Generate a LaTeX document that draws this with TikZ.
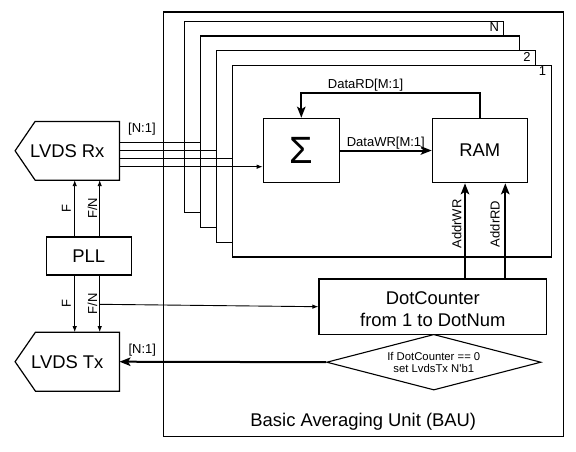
\documentclass[tikz,border=0pt]{standalone}
\usepackage{fontspec}
\setmainfont{Liberation Sans}
\usetikzlibrary{arrows.meta,shapes.geometric,calc}
\begin{document}
\begin{tikzpicture}[x=1pt,y=-1pt,
  box/.style={draw, line width=1.2pt, fill=white, inner sep=0pt},
  frm/.style={box, minimum width=319pt, minimum height=191.5pt},
  big/.style={font=\fontsize{18.4}{22}\selectfont},
  small/.style={font=\fontsize{13}{15}\selectfont},
  tinytext/.style={font=\fontsize{11.3}{12.4}\selectfont},
  thinline/.style={line width=0.9pt},
  thinarr/.style={line width=0.9pt, -{Latex[length=6pt,width=4.5pt]}},
  fatarr/.style={line width=2pt, -{Stealth[length=11pt,width=8.5pt,inset=2.5pt]}},
  rotlab/.style={small, rotate=90, anchor=south},
]
\useasboundingbox (0,0) rectangle (576,451);
% BAU outer box
\node[box, minimum width=400pt, minimum height=424.7pt] (bau) at (363.3,224.3) {};
\node[big, inner sep=0pt] (bautext) at (363.3,422) {Basic Averaging Unit (BAU)};
% stacked frames
\node[frm] (fN) at (343.7,117.1) {};
\node[frm] (f3) at (359.7,131.8) {};
\node[frm] (f2) at (375.7,146.5) {};
\node[frm] (f1) at (391.7,161.2) {};
\node[small, anchor=north east, inner xsep=4.5pt, inner ysep=2pt] (lN) at (fN.north east) {N};
\node[small, anchor=north east, inner xsep=5pt, inner ysep=2pt] (l2) at (f2.north east) {2};
\node[small, anchor=north east, inner xsep=5.5pt, inner ysep=2pt] (l1) at (f1.north east) {1};
% blocks in frame 1
\node[box, minimum width=76pt, minimum height=64.4pt, font=\fontsize{38}{40}\selectfont] (sigma) at (301.3,150.5) {Σ};
\node[box, big, minimum width=95pt, minimum height=64.4pt] (ram) at (479.8,150.5) {RAM};
% DotCounter and condition
\node[box, big, align=center, minimum width=227.7pt, minimum height=55.3pt] (dc) at (432.8,306.7) {\rule{0pt}{18.6pt}DotCounter\\from 1 to DotNum};
\node[draw, diamond, line width=1.1pt, fill=white, inner sep=0pt, shape aspect=3.85, minimum width=214.3pt, minimum height=55.7pt, tinytext, align=center] (dia) at (433.8,362.2) {If DotCounter == 0\\set LvdsTx N\textquotesingle b1};
% LVDS Rx / Tx and PLL
\node[big, minimum width=104pt, minimum height=58.3pt, inner sep=0pt] (rx) at (67.3,150.8) {LVDS Rx};
\draw[line width=1.2pt] (rx.north east) -- (rx.south east) -- ([xshift=20pt]rx.south west) -- (rx.west) -- ([xshift=20pt]rx.north west) -- cycle;
\node[big, minimum width=104pt, minimum height=58.7pt, inner sep=0pt] (tx) at (67.3,361.7) {LVDS Tx};
\draw[line width=1.2pt] (tx.north east) -- (tx.south east) -- ([xshift=20.4pt]tx.south west) -- (tx.west) -- ([xshift=20.4pt]tx.north west) -- cycle;
\node[box, big, minimum width=85pt, minimum height=38pt] (pll) at (88.8,256) {PLL};
% Rx data lines
\draw[thinline] ([yshift=8.5pt]rx.east) -- ([yshift=8.5pt]rx.east -| f3.west) node[pos=0.28, above, small, inner sep=6.5pt] (lrx) {[N:1]};
\draw[thinline] ([yshift=0.5pt]rx.east) -- ([yshift=0.5pt]rx.east -| f2.west);
\draw[thinline] ([yshift=-7.5pt]rx.east) -- ([yshift=-7.5pt]rx.east -| f1.west);
\draw[thinarr] ([yshift=-15.9pt]rx.east) -- ([yshift=-15.9pt]rx.east -| sigma.west);
% clocks
\draw[thinarr] ([xshift=-14.1pt]pll.north) -- ([xshift=-14.1pt]pll.north |- rx.south) node[midway, rotlab, inner sep=3.3pt] (lf1) {F};
\draw[thinarr] ([xshift=10.9pt]pll.north) -- ([xshift=10.9pt]pll.north |- rx.south) node[midway, rotlab, inner sep=2pt] (lfn1) {F/N};
\draw[thinarr] ([xshift=-14.1pt]pll.south) -- ([xshift=-14.1pt]pll.south |- tx.north) node[midway, rotlab, inner sep=3.3pt] (lf2) {F};
\draw[thinarr] ([xshift=10.9pt]pll.south) -- ([xshift=10.9pt]pll.south |- tx.north) node[midway, rotlab, inner sep=2pt] (lfn2) {F/N};
\coordinate (fnsplit) at (99.7,304.3);
\draw[thinarr] (fnsplit) -- (dc.west);
% data paths
\draw[fatarr] (sigma.east) -- (ram.west) node[midway, above, small, inner sep=0pt] (lwr) {DataWR[M:1]};
\draw[fatarr] (ram.north) -- ++(0,-24.3) -| (sigma.north) node[pos=0.32, above, small, inner sep=1.5pt] (lrd) {DataRD[M:1]};
\draw[fatarr] ([xshift=32.2pt]dc.north) -- ([xshift=32.2pt]dc.north |- ram.south) node[pos=0.573, rotlab, inner sep=2.5pt] (law) {AddrWR};
\draw[fatarr] ([xshift=72.5pt]dc.north) -- ([xshift=72.5pt]dc.north |- ram.south) node[pos=0.573, rotlab, inner sep=4.5pt] (lar) {AddrRD};
\draw[fatarr] (dia.west) -- (tx.east) node[pos=0.89, above, small, inner sep=5pt] (ltx) {[N:1]};
\end{tikzpicture}
\end{document}
